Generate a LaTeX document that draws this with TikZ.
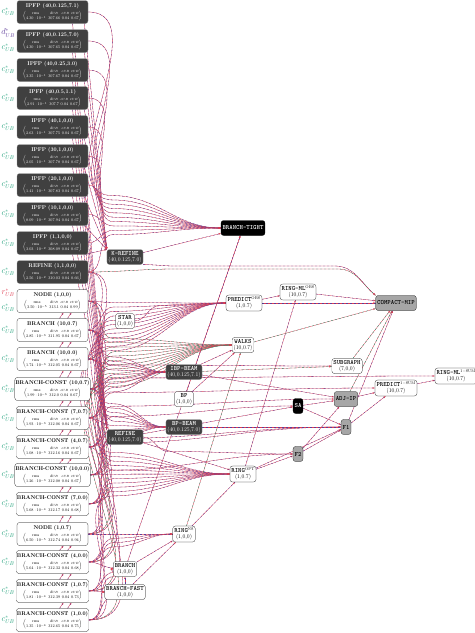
\documentclass[tikz,border=0pt]{standalone}
\usepackage{amsmath}
\usepackage{tikz}
\usetikzlibrary{arrows,calc,backgrounds}

\definecolor{cgreen}{RGB}{27,158,119}
\definecolor{cpurp}{RGB}{94,60,153}
\definecolor{cred}{RGB}{222,60,80}

\newcommand{\res}[5]{#1\\[4pt]{\mdseries\fontsize{8}{9}\selectfont$\left(\begin{array}{@{}c@{\hspace{5pt}}c@{\hspace{3pt}}c@{\hspace{3pt}}c@{}}\mathrm{rms}&d_{UB}&c_{UB}&e_{UB}\\[1pt]#2&#3&#4&#5\end{array}\right)$}}
\newcommand{\nm}[1]{{\fontsize{13}{14}\selectfont\ttfamily\bfseries #1}}
% fanned link: steep near the source, level lane, then into the target
\newcommand{\lnk}[3][rb]{\draw[#1] let \p1=(#2.east), \p2=(#3.west) in (\p1) to[out=0,in=180] ({\x1+50pt},{\y2+0.15*(\y1-\y2)}) to[out=0,in=180] (\p2);}

\tikzset{
  box/.style={rounded corners=5pt, align=center, inner sep=1pt, minimum width=142pt, minimum height=46pt, font=\fontsize{11}{11}\selectfont\bfseries},
  dbox/.style={box, fill=black!75, draw=black!40, text=white},
  wbox/.style={box, fill=white, draw=black},
  alg/.style={rounded corners=5pt, align=center, inner sep=3pt, minimum height=30pt, font=\fontsize{11.5}{13}\selectfont, draw=black},
  algd/.style={alg, fill=black!75, draw=black!40, text=white},
  algk/.style={alg, fill=black, text=white},
  algg/.style={alg, fill=black!35},
  algw/.style={alg, fill=white},
  best/.style={font=\fontsize{16}{17}\selectfont, inner sep=1pt},
  rb/.style={-latex, line width=0.6pt, cred, postaction={draw=cpurp, -, dash pattern=on 4pt off 4pt}},
  rt/.style={-latex, line width=0.6pt, cred, postaction={draw=cgreen, -, dash pattern=on 4pt off 4pt}}
}

\begin{document}
\begin{tikzpicture}[x=2pt,y=-2pt]
\useasboundingbox (0,0) rectangle (474,633);

% left column
\node[dbox] (L1) at (52.5,12) {\res{IPFP (40,0.125,7.1)}{4.30\cdot10^{-1}}{307.66}{0.04}{0.67}};
\node[dbox] (L2) at (52.5,41) {\res{IPFP (40,0.125,7.0)}{4.30\cdot10^{-1}}{307.65}{0.04}{0.67}};
\node[dbox] (L3) at (52.5,70) {\res{IPFP (40,0.25,3.0)}{3.35\cdot10^{-1}}{307.67}{0.04}{0.67}};
\node[dbox] (L4) at (52.5,98) {\res{IPFP (40,0.5,1.1)}{2.91\cdot10^{-1}}{307.7}{0.04}{0.67}};
\node[dbox] (L5) at (52.5,127) {\res{IPFP (40,1,0,0)}{2.63\cdot10^{-1}}{307.75}{0.04}{0.67}};
\node[dbox] (L6) at (52.5,156) {\res{IPFP (30,1,0,0)}{2.05\cdot10^{-1}}{307.78}{0.04}{0.67}};
\node[dbox] (L7) at (52.5,185) {\res{IPFP (20,1,0,0)}{1.41\cdot10^{-1}}{307.83}{0.04}{0.67}};
\node[dbox] (L8) at (52.5,214) {\res{IPFP (10,1,0,0)}{8.09\cdot10^{-2}}{307.94}{0.04}{0.67}};
\node[dbox] (L9) at (52.5,243) {\res{IPFP (1,1,0,0)}{3.03\cdot10^{-2}}{308.09}{0.04}{0.67}};
\node[dbox] (L10) at (52.5,272) {\res{REFINE (1,1,0,0)}{2.56\cdot10^{-2}}{310.03}{0.04}{0.66}};
\node[wbox] (L11) at (52.5,301) {\res{NODE (1,0,0)}{3.50\cdot10^{-5}}{313.1}{0.04}{0.99}};
\node[wbox] (L12) at (52.5,330) {\res{BRANCH (10,0.7)}{2.85\cdot10^{-3}}{311.95}{0.04}{0.67}};
\node[wbox] (L13) at (52.5,359) {\res{BRANCH (10,0.0)}{1.74\cdot10^{-3}}{312.05}{0.04}{0.67}};
\node[wbox] (L14) at (52.5,389) {\res{BRANCH-CONST (10,0.7)}{1.99\cdot10^{-3}}{312.0}{0.04}{0.67}};
\node[wbox] (L15) at (52.5,418) {\res{BRANCH-CONST (7,0.7)}{1.93\cdot10^{-3}}{312.06}{0.04}{0.67}};
\node[wbox] (L16) at (52.5,447) {\res{BRANCH-CONST (4,0.7)}{1.08\cdot10^{-3}}{312.16}{0.04}{0.67}};
\node[wbox] (L17) at (52.5,475) {\res{BRANCH-CONST (10,0.0)}{1.26\cdot10^{-3}}{312.08}{0.04}{0.67}};
\node[wbox] (L18) at (52.5,504) {\res{BRANCH-CONST (7,0.0)}{5.68\cdot10^{-4}}{312.17}{0.04}{0.68}};
\node[wbox] (L19) at (52.5,534) {\res{NODE (1,0.7)}{6.50\cdot10^{-5}}{312.74}{0.04}{0.94}};
\node[wbox] (L20) at (52.5,562) {\res{BRANCH-CONST (4,0.0)}{5.64\cdot10^{-4}}{312.32}{0.04}{0.68}};
\node[wbox] (L21) at (52.5,591) {\res{BRANCH-CONST (1,0.7)}{1.81\cdot10^{-4}}{312.39}{0.04}{0.73}};
\node[wbox] (L22) at (52.5,620) {\res{BRANCH-CONST (1,0.0)}{1.35\cdot10^{-4}}{312.65}{0.04}{0.75}};

% best marks
\foreach \y in {12,70,98,127,156,185,214,243,272,330,359,389,418,447,475,504,534,562,591,620}
  \node[best, cgreen] (m\y) at (8,\y) {$c^*_{UB}$};
\node[best, cpurp] (md) at (8,33) {$d^*_{UB}$};
\node[best, cgreen] (mc) at (8,48) {$c^*_{UB}$};
\node[best, cred] (mr) at (8,293) {$r^*_{UB}$};
\node[best, cgreen] (mc2) at (8,308) {$c^*_{UB}$};

% algorithms
\node[algd] (KR) at (125,257) {\nm{K-REFINE}\\(40,0.125,7.0)};
\node[algk] (BT) at (243,228) {\nm{BRANCH-TIGHT}};
\node[algw] (ST) at (125,321) {\nm{STAR}\\(1,0,0)};
\node[algw] (PO) at (244,303) {\nm{PREDICT}$^{\mathrm{OBS}}$\\(1,0.7)};
\node[algw] (RM) at (298,292) {\nm{RING-ML}$^{\mathrm{OBS}}$\\(10,0.7)};
\node[algg] (CM) at (396,303) {\nm{COMPACT-MIP}};
\node[algw] (WK) at (243,345) {\nm{WALKS}\\(10,0.7)};
\node[algd] (IB) at (184,372) {\nm{IBP-BEAM}\\(40,0.125,7.1)};
\node[algw] (BP) at (184,399) {\nm{BP}\\(1,0,0)};
\node[algd] (BB) at (184,427) {\nm{BP-BEAM}\\(40,0.125,7.0)};
\node[algd] (RF) at (125,437) {\nm{REFINE}\\(40,0.125,7.0)};
\node[algw] (RO) at (243,474) {\nm{RING}$^{\mathrm{OPT}}$\\(1,0.7)};
\node[algw] (RN) at (184,534) {\nm{RING}$^{\mathrm{NS}}$\\(1,0,0)};
\node[algw] (BR) at (125,569) {\nm{BRANCH}\\(1,0,0)};
\node[algw] (BF) at (125,592) {\nm{BRANCH-FAST}\\(1,0,0)};
\node[algw] (SU) at (347,366) {\nm{SUBGRAPH}\\(7,0,0)};
\node[algw] (P1) at (396,388) {\nm{PREDICT}$^{\mathrm{1-SUM}}$\\(10,0.7)};
\node[algw] (R1) at (456,376) {\nm{RING-ML}$^{\mathrm{1-SUM}}$\\(10,0.7)};
\node[algg] (AD) at (346,399) {\nm{ADJ-IP}};
\node[algk] (SA) at (298,406) {\nm{SA}};
\node[algg] (F1) at (346,427) {\nm{F1}};
\node[algg] (F2) at (298,454) {\nm{F2}};

\begin{scope}[on background layer]
% bundles from the left column
\foreach \i in {1,...,10} {\lnk{L\i}{BT}}
\foreach \i in {1,...,9} \draw[rb] (L\i.-20) -- (KR.north west);
\foreach \i in {1,...,9} \draw[rb] (L\i.-30) -- (RF.north west);
\foreach \i in {11,...,22} {\lnk{L\i}{PO}}
\foreach \i in {11,...,22} {\lnk[rt]{L\i}{WK}}
\foreach \i in {10,...,18} {\lnk{L\i}{IB}}
\foreach \i in {10,...,18} {\lnk{L\i}{BB}}
\foreach \i in {12,...,22} {\lnk{L\i}{RO}}
\foreach \i in {19,...,22} {\lnk{L\i}{RN}}
\foreach \i in {20,21,22} {\lnk{L\i}{BR}}
\foreach \i in {21,22} {\lnk{L\i}{BF}}
\foreach \i [evaluate=\i as \j using int(\i+1)] in {11,...,21} {
  \draw[rb] ([xshift=14pt]L\j.north) -- ([xshift=22pt]L\i.south);
  \draw[rb] ([xshift=30pt]L\j.north) -- ([xshift=38pt]L\i.south);
}

% long runs
\foreach \a/\b in {L13/SU, L14/R1, L15/P1, L16/AD, L17/SA, L18/F1, L19/F1, L20/F2, RF/F2, ST/PO}
  {\lnk{\a}{\b}}
\draw[rb] (KR.south east) to[out=0,in=180] (175,266) -- (335,266) to[out=0,in=140] (CM.north west);
\draw[rt] (L10.east) to[out=0,in=180] (175,269) -- (338,269) to[out=0,in=140] (CM.north west);

% between algorithms
\foreach \a/\b in {KR/BT, BP/BT, BR/BT, PO/RM, PO/CM, RM/CM, IB/WK, BP/WK, RN/RO, BR/RN, BF/RN, BF/BR, RO/F2, RO/F1, RO/RM, F2/F1, F2/AD, SA/AD, SA/F1, F1/CM, AD/P1, F1/P1, P1/R1, RF/RO, BB/F1, IB/AD, RF/SA}
  \draw[rb] (\a) -- (\b);
\foreach \a/\b in {RN/WK, SU/CM, AD/CM, WK/CM, IB/SU}
  \draw[rt] (\a) -- (\b);
\end{scope}
\end{tikzpicture}
\end{document}
